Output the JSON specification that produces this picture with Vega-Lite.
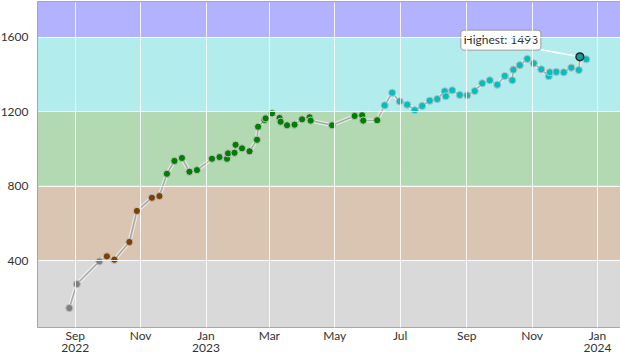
{
  "$schema": "https://vega.github.io/schema/vega-lite/v6.json",
  "width": 582,
  "height": 325,
  "autosize": {"type": "none"},
  "padding": {"left": 38, "top": 2, "right": 0, "bottom": 26},
  "background": "white",
  "config": {"font": "Lato", "view": {"stroke": "#8a8a8a", "strokeWidth": 1.5}},
  "datasets": {
    "bands": [
      {"lo": 0, "hi": 400},
      {"lo": 400, "hi": 800},
      {"lo": 800, "hi": 1200},
      {"lo": 1200, "hi": 1600},
      {"lo": 1600, "hi": 2000}
    ],
    "contests": [
      {"date": "2022-08-27", "rating": 142},
      {"date": "2022-09-03", "rating": 271},
      {"date": "2022-09-24", "rating": 393},
      {"date": "2022-10-01", "rating": 420},
      {"date": "2022-10-08", "rating": 402},
      {"date": "2022-10-22", "rating": 497},
      {"date": "2022-10-29", "rating": 664},
      {"date": "2022-11-12", "rating": 735},
      {"date": "2022-11-19", "rating": 744},
      {"date": "2022-11-26", "rating": 864},
      {"date": "2022-12-03", "rating": 933},
      {"date": "2022-12-10", "rating": 949},
      {"date": "2022-12-17", "rating": 875},
      {"date": "2022-12-24", "rating": 884},
      {"date": "2023-01-07", "rating": 945},
      {"date": "2023-01-14", "rating": 954},
      {"date": "2023-01-21", "rating": 945},
      {"date": "2023-01-22", "rating": 974},
      {"date": "2023-01-28", "rating": 977},
      {"date": "2023-01-29", "rating": 1020},
      {"date": "2023-02-04", "rating": 1001},
      {"date": "2023-02-11", "rating": 985},
      {"date": "2023-02-18", "rating": 1047},
      {"date": "2023-02-19", "rating": 1117},
      {"date": "2023-02-25", "rating": 1153},
      {"date": "2023-02-26", "rating": 1162},
      {"date": "2023-03-04", "rating": 1189},
      {"date": "2023-03-11", "rating": 1164},
      {"date": "2023-03-12", "rating": 1144},
      {"date": "2023-03-18", "rating": 1125},
      {"date": "2023-03-25", "rating": 1128},
      {"date": "2023-04-01", "rating": 1157},
      {"date": "2023-04-08", "rating": 1168},
      {"date": "2023-04-09", "rating": 1150},
      {"date": "2023-04-29", "rating": 1125},
      {"date": "2023-05-20", "rating": 1175},
      {"date": "2023-05-27", "rating": 1179},
      {"date": "2023-05-28", "rating": 1150},
      {"date": "2023-06-10", "rating": 1152},
      {"date": "2023-06-17", "rating": 1232},
      {"date": "2023-06-24", "rating": 1300},
      {"date": "2023-07-01", "rating": 1254},
      {"date": "2023-07-08", "rating": 1236},
      {"date": "2023-07-15", "rating": 1206},
      {"date": "2023-07-22", "rating": 1229},
      {"date": "2023-07-29", "rating": 1257},
      {"date": "2023-08-05", "rating": 1266},
      {"date": "2023-08-12", "rating": 1308},
      {"date": "2023-08-13", "rating": 1281},
      {"date": "2023-08-19", "rating": 1313},
      {"date": "2023-08-26", "rating": 1288},
      {"date": "2023-09-02", "rating": 1286},
      {"date": "2023-09-09", "rating": 1309},
      {"date": "2023-09-16", "rating": 1351},
      {"date": "2023-09-23", "rating": 1367},
      {"date": "2023-09-30", "rating": 1343},
      {"date": "2023-10-07", "rating": 1390},
      {"date": "2023-10-14", "rating": 1367},
      {"date": "2023-10-15", "rating": 1424},
      {"date": "2023-10-21", "rating": 1448},
      {"date": "2023-10-28", "rating": 1482},
      {"date": "2023-11-03", "rating": 1458},
      {"date": "2023-11-10", "rating": 1426},
      {"date": "2023-11-17", "rating": 1389},
      {"date": "2023-11-18", "rating": 1410},
      {"date": "2023-11-24", "rating": 1412},
      {"date": "2023-12-01", "rating": 1410},
      {"date": "2023-12-08", "rating": 1435},
      {"date": "2023-12-15", "rating": 1422},
      {"date": "2023-12-16", "rating": 1493},
      {"date": "2023-12-22", "rating": 1480}
    ]
  },
  "layer": [
    {
      "data": {"name": "bands"},
      "mark": {"type": "rect", "clip": true},
      "encoding": {
        "y": {"field": "lo", "type": "quantitative", "scale": {"domain": [40, 1788], "nice": false, "zero": false},
          "axis": {"title": null, "values": [400, 800, 1200, 1600], "format": "d", "grid": true, "gridColor": "#ffffff", "gridOpacity": 0.9, "gridWidth": 1, "domain": false, "ticks": false, "labelPadding": 10, "labelFont": "Lato", "labelFontSize": 12, "labelColor": "#333333", "zindex": 1}},
        "y2": {"field": "hi"},
        "color": {"field": "lo", "type": "quantitative", "legend": null,
          "scale": {"type": "threshold", "domain": [400, 800, 1200, 1600], "range": ["#d9d9d9", "#d9c5b2", "#b2d9b2", "#b2ecec", "#b2b2ff"]}}
      }
    },
    {
      "data": {"name": "contests"},
      "encoding": {
        "x": {"field": "date", "type": "temporal",
          "scale": {"domain": [{"year": 2022, "month": 7, "date": 28, "hours": 19}, {"year": 2024, "month": 1, "date": 22, "hours": 10}]},
          "axis": {"title": null, "grid": true, "gridColor": "#ffffff", "gridOpacity": 0.85, "gridWidth": 1, "domain": false, "ticks": false, "labelPadding": 3, "labelFont": "Lato", "labelFontSize": 12, "labelColor": "#333333", "labelLineHeight": 12, "labelBaseline": "top", "zindex": 1,
            "values": [{"year": 2022, "month": 9, "date": 1}, {"year": 2022, "month": 11, "date": 1}, {"year": 2023, "month": 1, "date": 1}, {"year": 2023, "month": 3, "date": 1}, {"year": 2023, "month": 5, "date": 1}, {"year": 2023, "month": 7, "date": 1}, {"year": 2023, "month": 9, "date": 1}, {"year": 2023, "month": 11, "date": 1}, {"year": 2024, "month": 1, "date": 1}],
            "labelExpr": "(month(datum.value) == 0 || (year(datum.value) == 2022 && month(datum.value) == 8)) ? [timeFormat(datum.value, '%b'), timeFormat(datum.value, '%Y')] : timeFormat(datum.value, '%b')"}},
        "y": {"field": "rating", "type": "quantitative", "scale": {"domain": [40, 1788], "nice": false, "zero": false},
          "axis": {"title": null, "values": [400, 800, 1200, 1600], "format": "d", "grid": true, "gridColor": "#ffffff", "gridOpacity": 0.9, "gridWidth": 1, "domain": false, "ticks": false, "labelPadding": 10, "labelFont": "Lato", "labelFontSize": 12, "labelColor": "#333333", "zindex": 1}}
      },
      "layer": [
        {"mark": {"type": "line", "color": "#ffffff", "strokeWidth": 4, "opacity": 0.6}},
        {"mark": {"type": "line", "color": "#a8a8a8", "strokeWidth": 1.6}},
        {
          "mark": {"type": "circle", "size": 52, "stroke": "#c0c0c0", "strokeWidth": 1, "opacity": 1},
          "encoding": {
            "fill": {"field": "rating", "type": "quantitative", "legend": null,
              "scale": {"type": "threshold", "domain": [400, 800, 1200, 1600], "range": ["#808080", "#804000", "#008000", "#00c0c0", "#0000ff"]}}
          }
        },
        {
          "transform": [
            {"joinaggregate": [{"op": "max", "field": "rating", "as": "best"}]},
            {"filter": "datum.rating == datum.best"},
            {"calculate": "'Highest: ' + datum.rating", "as": "label"}
          ],
          "layer": [
            {
              "mark": {"type": "rule", "color": "#ffffff", "strokeWidth": 1.5, "x2Offset": -39, "y2Offset": -7},
              "encoding": {"x2": {"field": "date"}, "y2": {"field": "rating"}}
            },
            {
              "mark": {"type": "rect", "width": 80, "height": 20, "xOffset": -79, "yOffset": -16.7, "fill": "#ffffff", "stroke": "#9a9a9a", "strokeWidth": 1, "cornerRadius": 3}
            },
            {
              "mark": {"type": "text", "dx": -79, "dy": -16.7, "align": "center", "baseline": "middle", "font": "Lato", "fontSize": 12, "color": "#333333"},
              "encoding": {"text": {"field": "label"}}
            },
            {
              "mark": {"type": "circle", "size": 60, "fill": "#139c9c", "stroke": "#222222", "strokeWidth": 1.5, "opacity": 1}
            }
          ]
        }
      ]
    }
  ]
}
